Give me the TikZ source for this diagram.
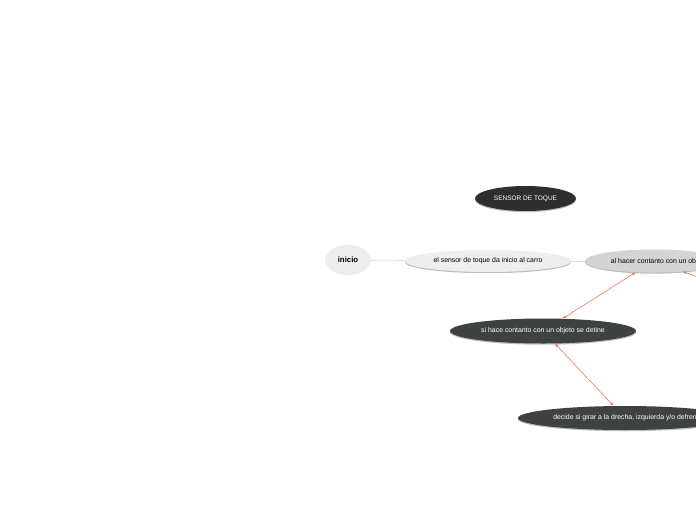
\documentclass[tikz,border=0pt]{standalone}
\usepackage{fontspec}
\setmainfont{Liberation Sans}
\usetikzlibrary{arrows.meta,shadows,shapes.geometric}
\definecolor{darkA}{HTML}{2E2E2E}
\definecolor{darkB}{HTML}{3E4242}
\definecolor{lightA}{HTML}{EEEEEE}
\definecolor{lightB}{HTML}{D4D4D4}
\definecolor{linkgray}{HTML}{DDDDDD}
\definecolor{linkred}{HTML}{F2765A}
\tikzset{
  bubble/.style={ellipse, inner sep=0pt, font=\fontsize{6.9}{8}\selectfont,
    drop shadow={shadow xshift=0pt, shadow yshift=-1.2pt, opacity=0.25, fill=black}},
  darkbubble/.style={bubble, fill=darkB, text=white},
  lightbubble/.style={bubble, fill=lightA, text=black},
  plain/.style={draw=linkgray, line width=0.8pt},
  rel/.style={draw=linkred, line width=0.6pt, {Latex[length=3.5pt,width=3pt]}-{Latex[length=3.5pt,width=3pt]}}
}
\begin{document}
\begin{tikzpicture}[x=1pt,y=-1pt]
\useasboundingbox (0,0) rectangle (696,520);
\clip (0,0) rectangle (696,520);
\fill[white] (0,0) rectangle (696,520);

\node[bubble, fill=darkA, text=white, minimum width=101pt, minimum height=25pt, font=\fontsize{6.5}{8}\selectfont] (title) at (525.5,198.5) {SENSOR DE TOQUE};
\node[ellipse, fill=lightA, inner sep=0pt, minimum width=46pt, minimum height=30pt, font=\fontsize{7.8}{10}\selectfont\bfseries] (inicio) at (348,260) {inicio};
\node[lightbubble, minimum width=166pt, minimum height=22pt] (sensor) at (488,261) {el sensor de toque da inicio al carro};
\node[bubble, fill=lightB, text=black, minimum width=137pt, minimum height=23pt] (hacer) at (653.5,261) {al hacer contanto con un ob};
\node[darkbubble, minimum width=186pt, minimum height=25pt] (detine) at (543,331) {si hace contanto con un objeto se detine};
\node[darkbubble, minimum width=214pt, minimum height=24pt] (decide) at (625,418) {decide si girar a la drecha, izquierda y/o defren};
\coordinate (beyond) at (775.5,305);

\draw[plain] (inicio) -- (sensor);
\draw[plain] (sensor) -- (hacer);
\draw[rel] (hacer) -- (detine);
\draw[rel] (detine) -- (decide);
\draw[rel] (hacer) -- (beyond);
\end{tikzpicture}
\end{document}
